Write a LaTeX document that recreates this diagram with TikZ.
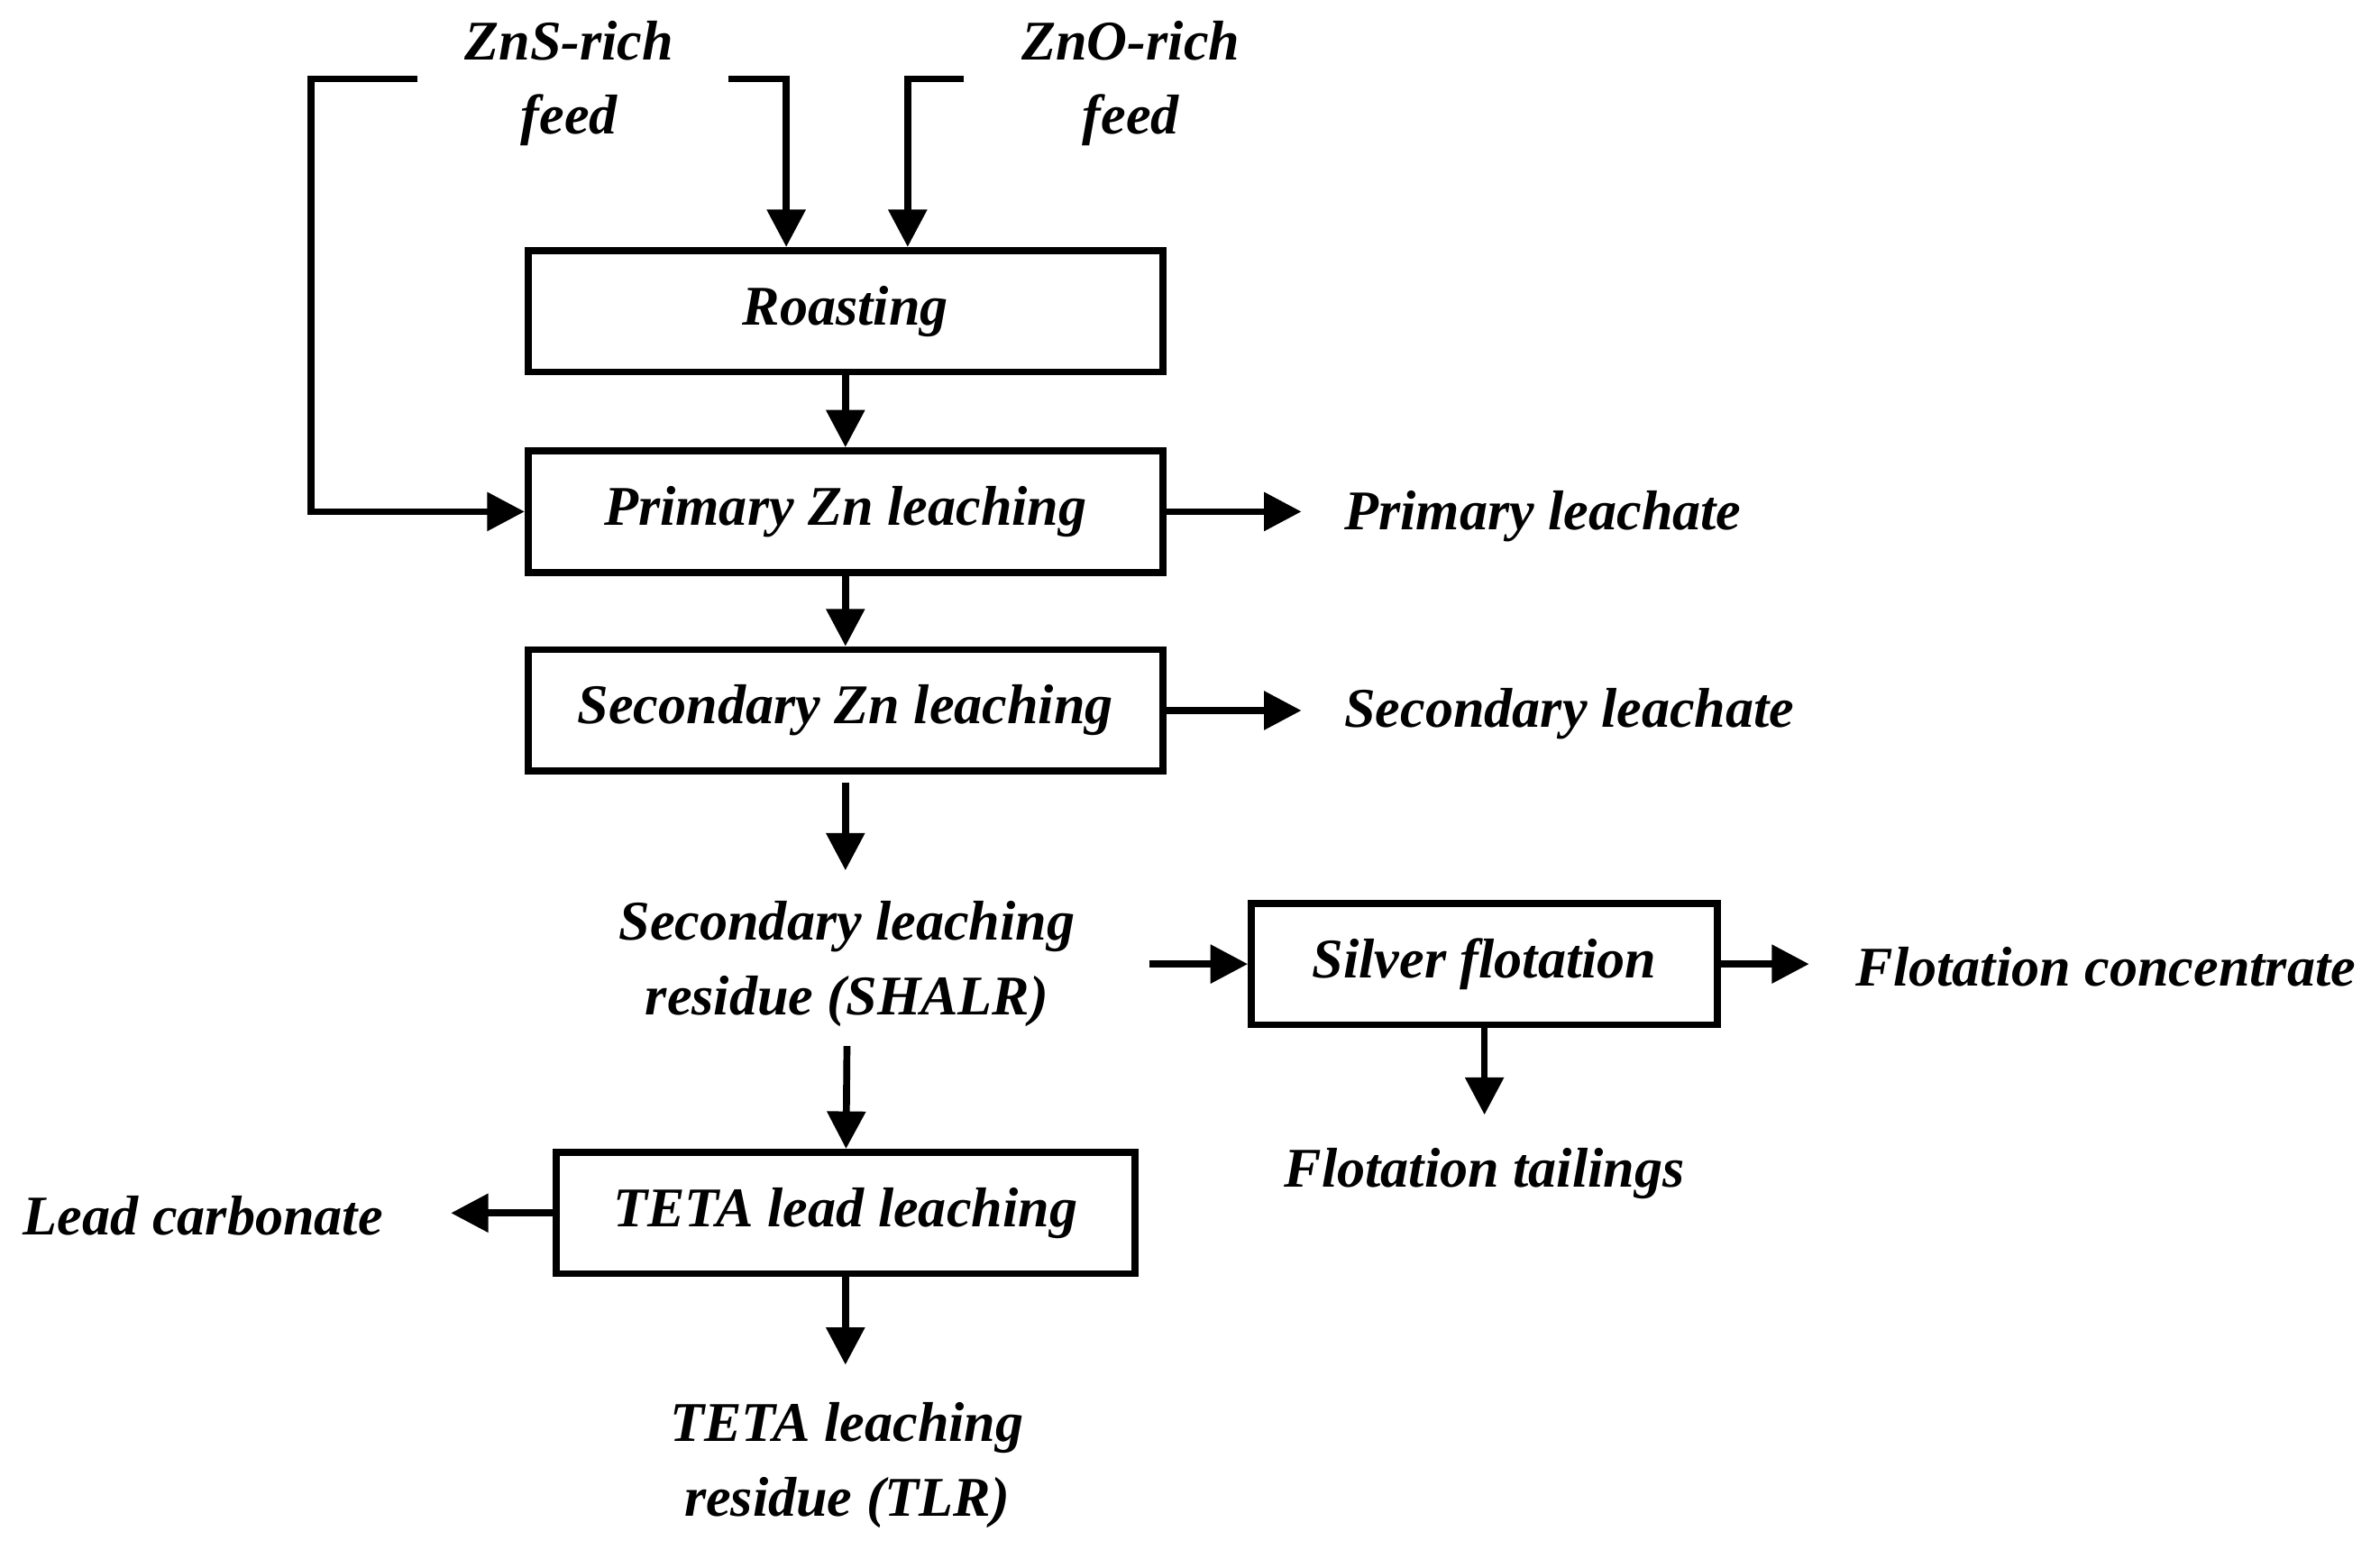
\documentclass[tikz,border=0pt]{standalone}
\usepackage{fontspec}
\setmainfont{Liberation Serif}
\usetikzlibrary{positioning,arrows.meta}
\begin{document}
\begin{tikzpicture}[x=0.01cm,y=-0.01cm,
	proc/.style={draw,line width=1.3pt,minimum height=0.8cm,inner sep=0pt,font=\fontsize{10.5}{14}\selectfont\bfseries\itshape},
	lbl/.style={font=\fontsize{10.5}{14}\selectfont\bfseries\itshape,inner sep=0pt,align=center},
	flow/.style={line width=1.3pt,-{Triangle[length=7pt,width=7pt]}}]
\useasboundingbox (0,0) rectangle (1568,1015);

\node[lbl] (zns) at (375,55) {ZnS-rich\\feed};
\node[lbl] (zno) at (745,55) {ZnO-rich\\feed};

\node[proc,minimum width=4.18cm] (roast) at (557,205) {Roasting};
\node[proc,minimum width=4.18cm] (prim) at (557,337) {Primary Zn leaching};
\node[proc,minimum width=4.18cm] (sec) at (557,468) {Secondary Zn leaching};
\node[lbl] (shalr) at (558,635) {Secondary leaching\\residue (SHALR)};
\node[proc,minimum width=3.07cm] (flot) at (978,635) {Silver flotation};
\node[proc,minimum width=3.81cm] (teta) at (557,799) {TETA lead leaching};
\node[lbl] (tlr) at (558,965) {TETA leaching\\residue (TLR)};

\node[lbl,anchor=west] (pleach) at (885,340) {Primary leachate};
\node[lbl,anchor=west] (sleach) at (885,470) {Secondary leachate};
\node[lbl,anchor=west] (conc) at (1222,637) {Flotation concentrate};
\node[lbl] (tail) at (978,773) {Flotation tailings};
\node[lbl,anchor=east] (lead) at (253,801) {Lead carbonate};

% feeds
\coordinate (zl) at (275,52);
\coordinate (zr) at (480,52);
\coordinate (ol) at (635,52);
\draw[flow] (zl) -- (205,52) |- (prim.west);
\draw[flow] (zr) -| (roast.north -| 518,0);
\draw[flow] (ol) -| (roast.north -| 598,0);

% main line
\draw[flow] (roast) -- (prim);
\draw[flow] (prim) -- (sec);
\draw[flow] (sec.south) ++(0,5) -- ++(0,58);
\draw[flow] (shalr.south) ++(0,12) -- (teta);
\draw[flow] (teta) -- ++(0,100);

% side streams
\draw[flow] (prim.east) -- ++(89,0);
\draw[flow] (sec.east) -- ++(89,0);
\draw[flow] (757,635) -- (flot.west);
\draw[flow] (flot.east) -- ++(58,0);
\draw[flow] (flot.south) -- ++(0,57);
\draw[flow] (teta.west) -- ++(-67,0);
\end{tikzpicture}
\end{document}
